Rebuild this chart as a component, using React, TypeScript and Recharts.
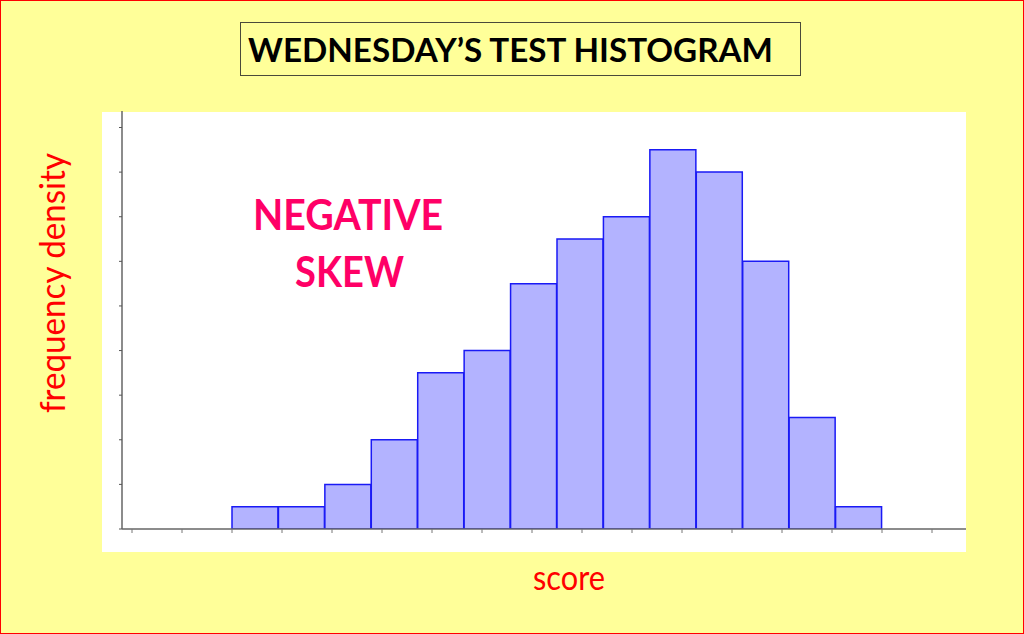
import React from 'react';
import { ComposedChart, Bar, XAxis, YAxis } from 'recharts';

// histogram bins: mid-point score of each bin (left to right) and its frequency density
const BIN_MID = [2.46, 3.39, 4.32, 5.25, 6.18, 7.11, 8.04, 8.96, 9.89, 10.82, 11.75, 12.68, 13.61, 14.54];
const DENSITY = [1, 1, 2, 4, 7, 8, 11, 13, 14, 17, 16, 12, 5, 1];

// tick marks (no labels are shown on either axis)
const SCORE_TICKS = [0, 1, 2, 3, 4, 5, 6, 7, 8, 9, 10, 11, 12, 13, 14, 15, 16];
const DENSITY_TICKS = [0, 2, 4, 6, 8, 10, 12, 14, 16, 18];

const chartData = BIN_MID.map((score, i) => ({ score, density: DENSITY[i] }));

const W = 1024;
const H = 634;

// tick marks only, no tick text
const NoLabel = () => <g />;

export default function App() {
  return (
    <div
      style={{
        position: 'absolute',
        left: 0,
        top: 0,
        width: W,
        height: H,
        background: '#FFFF99',
        border: '1.5px solid #FF0000',
        boxSizing: 'border-box',
        overflow: 'hidden',
      }}
    >
      {/* white plot panel */}
      <div
        style={{
          position: 'absolute',
          left: 102 - 1.5,
          top: 112 - 1.5,
          width: 864,
          height: 440,
          background: '#FFFFFF',
        }}
      />
      {/* title box */}
      <div
        style={{
          position: 'absolute',
          left: 240 - 1.5,
          top: 22 - 1.5,
          width: 561,
          height: 54,
          border: '1.5px solid #4A4A3A',
          boxSizing: 'border-box',
        }}
      />
      <div style={{ position: 'absolute', left: -1.5, top: -1.5 }}>
        <ComposedChart
          width={W}
          height={H}
          data={chartData}
          margin={{ top: 111, right: 58, bottom: 104, left: 121 }}
          barCategoryGap={0}
          barGap={0}
        >
          <XAxis
            xAxisId="bins"
            dataKey="score"
            type="category"
            hide
            height={0}
            padding={{ left: 110, right: 84 }}
          />
          <XAxis
            xAxisId="score"
            dataKey="score"
            type="number"
            domain={[-0.2, 16.68]}
            ticks={SCORE_TICKS}
            allowDataOverflow
            height={1}
            tick={NoLabel}
            tickSize={4}
            axisLine={{ stroke: '#666666', strokeWidth: 1.5 }}
            tickLine={{ stroke: '#777777', strokeWidth: 1 }}
          />
          <YAxis
            type="number"
            domain={[0, 18.74]}
            ticks={DENSITY_TICKS}
            allowDataOverflow
            width={1}
            tick={NoLabel}
            tickSize={3}
            axisLine={{ stroke: '#666666', strokeWidth: 1.5 }}
            tickLine={{ stroke: '#555555', strokeWidth: 1 }}
          />
          <Bar
            xAxisId="bins"
            dataKey="density"
            fill="#B3B3FF"
            stroke="#1A1AF5"
            strokeWidth={1.5}
            isAnimationActive={false}
          />
        </ComposedChart>
      </div>
      {/* text overlay */}
      <svg
        width={W}
        height={H}
        style={{ position: 'absolute', left: -1.5, top: -1.5, pointerEvents: 'none' }}
      >
        <text
          x={248}
          y={61.5}
          fontFamily="Lato, 'Open Sans', sans-serif"
          fontWeight={700}
          fontSize={33}
          fill="#000000"
          textLength={525}
          lengthAdjust="spacingAndGlyphs"
        >
          WEDNESDAY’S TEST HISTOGRAM
        </text>
        <text
          x={348}
          y={230}
          textAnchor="middle"
          fontFamily="Lato, 'Open Sans', sans-serif"
          fontWeight={700}
          fontSize={42}
          fill="#FF0066"
          textLength={190}
          lengthAdjust="spacingAndGlyphs"
        >
          NEGATIVE
        </text>
        <text
          x={349.5}
          y={287}
          textAnchor="middle"
          fontFamily="Lato, 'Open Sans', sans-serif"
          fontWeight={700}
          fontSize={42}
          fill="#FF0066"
          textLength={109}
          lengthAdjust="spacingAndGlyphs"
        >
          SKEW
        </text>
        <text
          x={0}
          y={0}
          transform="translate(65 283) rotate(-90)"
          textAnchor="middle"
          fontFamily="Lato, 'Open Sans', sans-serif"
          fontSize={34}
          fill="#FF0000"
          textLength={260}
          lengthAdjust="spacingAndGlyphs"
        >
          frequency density
        </text>
        <text
          x={569}
          y={590}
          textAnchor="middle"
          fontFamily="Lato, 'Open Sans', sans-serif"
          fontSize={34}
          fill="#FF0000"
          textLength={72}
          lengthAdjust="spacingAndGlyphs"
        >
          score
        </text>
      </svg>
    </div>
  );
}
